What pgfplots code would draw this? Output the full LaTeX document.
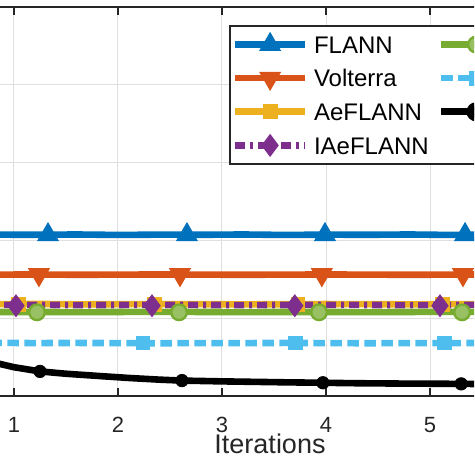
\documentclass[border=0pt]{standalone}
\usepackage{pgfplots}
\pgfplotsset{compat=1.18}
\usepackage{fontspec}
\setmainfont{Liberation Sans}

\definecolor{mBlue}{rgb}{0,0.447,0.741}
\definecolor{mOrange}{rgb}{0.85,0.325,0.098}
\definecolor{mYellow}{rgb}{0.929,0.694,0.125}
\definecolor{mPurple}{rgb}{0.494,0.184,0.556}
\definecolor{mGreen}{rgb}{0.466,0.674,0.188}
\definecolor{mCyan}{rgb}{0.301,0.745,0.933}
\definecolor{axgray}{rgb}{0.15,0.15,0.15}
\definecolor{gridgray}{rgb}{0.875,0.875,0.875}

\begin{document}
\begin{tikzpicture}
% visible window of the figure
\useasboundingbox (45pt,-39pt) rectangle (282pt,198pt);
\clip (45pt,-39pt) rectangle (282pt,198pt);
\begin{axis}[
  at={(0pt,0pt)}, anchor=south west,
  scale only axis, width=364pt, height=194.5pt,
  xmin=0, xmax=7, ymin=-35, ymax=-10,
  xtick={0,...,7}, ytick={-35,-30,...,-10},
  grid=major,
  major grid style={line width=0.5pt, draw=gridgray},
  axis line style={draw=axgray, line width=0.7pt},
  tick style={draw=axgray, line width=0.7pt},
  tick align=inside, major tick length=4pt,
  tick label style={font=\fontsize{11}{13}\selectfont, text=axgray},
  /pgf/number format/assume math mode=true,
  xticklabel style={anchor=base, yshift=-18pt},
  xlabel={Iterations},
  xlabel style={at={(axis description cs:0.4945,0)}, anchor=base, yshift=-28.5pt,
    font=\fontsize{13.5}{16}\selectfont, text=axgray},
  legend columns=2,
  legend cell align=left,
  legend style={at={(axis description cs:0.4382,0.9537)}, anchor=north west,
    draw=axgray, line width=0.8pt, fill=white,
    font=\fontsize{12}{14}\selectfont,
    inner xsep=1pt, inner ysep=1pt, row sep=0pt, column sep=0pt,
    nodes={inner sep=0pt, minimum height=16.8pt, text height=8.6pt, text depth=0pt}},
  /tikz/every odd column/.append style={column sep=2.8pt},
  /tikz/every even column/.append style={column sep=4.5pt},
  legend image code/.code={
    \draw[mark repeat=2,mark phase=2,#1] plot coordinates {(0pt,0pt) (17.5pt,0pt) (35pt,0pt)};},
]

% FLANN
\addplot[forget plot, mBlue, line width=3.3pt] coordinates {
 (0,-10) (0.1,-17) (0.2,-21) (0.35,-23.5) (0.5,-24.3) (0.65,-24.58)
 (0.8,-24.63) (1.2,-24.64) (1.6,-24.62) (2.0,-24.65) (2.4,-24.63) (2.8,-24.64)
 (3.2,-24.62) (3.6,-24.65) (4.0,-24.63) (4.4,-24.64) (4.8,-24.62) (5.2,-24.65)
 (5.6,-24.63) (6.0,-24.64) (6.68,-24.63)};
\addplot[forget plot, only marks, mark=triangle*, mark size=5.8pt,
  mark options={draw=mBlue, fill=mBlue, line width=0.6pt}] coordinates {
 (1.327,-24.64) (2.663,-24.64) (3.99,-24.63) (5.337,-24.63)};

% Volterra
\addplot[forget plot, mOrange, line width=3.3pt] coordinates {
 (0,-12) (0.1,-19) (0.2,-23.5) (0.35,-26) (0.5,-26.9) (0.65,-27.15)
 (0.8,-27.2) (1.2,-27.19) (1.6,-27.21) (2.0,-27.2) (2.4,-27.19) (2.8,-27.2)
 (3.2,-27.21) (3.6,-27.2) (4.0,-27.19) (4.4,-27.2) (4.8,-27.21) (5.2,-27.2)
 (5.6,-27.19) (6.0,-27.2) (6.68,-27.2)};
\addplot[forget plot, only marks, mark=triangle*, mark size=5.8pt,
  mark options={rotate=180, draw=mOrange, fill=mOrange, line width=0.6pt}] coordinates {
 (1.24,-27.2) (2.596,-27.2) (3.96,-27.2) (5.317,-27.2)};

% AeFLANN
\addplot[forget plot, mYellow, line width=3.3pt] coordinates {
 (0,-13) (0.1,-20) (0.2,-25) (0.35,-27.8) (0.5,-28.8) (0.65,-29.05)
 (0.8,-29.1) (1.2,-29.08) (1.6,-29.11) (2.0,-29.1) (2.4,-29.09) (2.8,-29.1)
 (3.2,-29.11) (3.6,-29.1) (4.0,-29.09) (4.4,-29.1) (4.8,-29.11) (5.2,-29.1)
 (5.6,-29.09) (6.0,-29.1) (6.68,-29.1)};
\addplot[forget plot, only marks, mark=square*, mark size=3.4pt,
  mark options={draw=mYellow, fill=mYellow, line width=0.6pt}] coordinates {
 (1.04,-29.1) (2.35,-29.1) (3.73,-29.1) (5.12,-29.1)};

% IAeFLANN
\addplot[forget plot, mPurple, line width=3.3pt, dash pattern=on 5pt off 2.5pt on 1.5pt off 2.5pt] coordinates {
 (0,-13) (0.1,-20) (0.2,-25) (0.35,-27.8) (0.5,-28.8) (0.65,-29.1)
 (0.8,-29.15) (1.2,-29.14) (1.6,-29.16) (2.0,-29.15) (2.4,-29.14) (2.8,-29.15)
 (3.2,-29.16) (3.6,-29.15) (4.0,-29.14) (4.4,-29.15) (4.8,-29.16) (5.2,-29.15)
 (5.6,-29.14) (6.0,-29.15) (6.68,-29.15)};
\addplot[forget plot, only marks, mark=diamond*, mark size=5.3pt,
  mark options={solid, draw=mPurple, fill=mPurple, line width=0.6pt}] coordinates {
 (1.019,-29.2) (2.327,-29.2) (3.70,-29.2) (5.096,-29.2)};

% RAeFLANN
\addplot[forget plot, mGreen, line width=3.3pt] coordinates {
 (0,-13) (0.1,-20.5) (0.2,-25.5) (0.35,-28.2) (0.5,-29.2) (0.65,-29.55)
 (0.8,-29.6) (1.2,-29.6) (1.6,-29.61) (2.0,-29.6) (2.4,-29.59) (2.8,-29.6)
 (3.2,-29.61) (3.6,-29.6) (4.0,-29.6) (4.4,-29.61) (4.8,-29.6) (5.2,-29.59)
 (5.6,-29.6) (6.0,-29.6) (6.68,-29.6)};
\addplot[forget plot, only marks, mark=*, mark size=3.9pt,
  mark options={draw=mGreen, fill=mGreen!75!white, line width=1.2pt}] coordinates {
 (1.221,-29.62) (2.587,-29.62) (3.933,-29.62) (5.308,-29.62)};

% KAeFLANN
\addplot[forget plot, mCyan, line width=3.3pt, dash pattern=on 5.8pt off 2.7pt] coordinates {
 (0,-14) (0.1,-21.5) (0.2,-27) (0.35,-30) (0.5,-31.2) (0.65,-31.5)
 (0.8,-31.58) (1.2,-31.6) (1.6,-31.59) (2.0,-31.6) (2.4,-31.61) (2.8,-31.6)
 (3.2,-31.6) (3.6,-31.59) (4.0,-31.6) (4.4,-31.61) (4.8,-31.6) (5.2,-31.6)
 (5.6,-31.59) (6.0,-31.6) (6.68,-31.6)};
\addplot[forget plot, only marks, mark=square*, mark size=3.4pt,
  mark options={solid, draw=mCyan, fill=mCyan, line width=0.6pt}] coordinates {
 (0.77,-31.6) (2.24,-31.6) (3.71,-31.6) (5.14,-31.6)};

% Proposed
\addplot[forget plot, black, line width=3.3pt] coordinates {
 (0,-18) (0.1,-25) (0.2,-28.5) (0.35,-30.8) (0.5,-31.9) (0.65,-32.5) (0.8,-32.85)
 (0.865,-32.94) (1.0,-33.15) (1.25,-33.42) (1.5,-33.57) (1.83,-33.72) (2.1,-33.84)
 (2.4,-33.95) (2.615,-34.01) (3.0,-34.06) (3.3,-34.09) (3.6,-34.12) (3.97,-34.15)
 (4.3,-34.18) (4.7,-34.2) (5.0,-34.21) (5.3,-34.22) (5.6,-34.24) (6.0,-34.26) (6.68,-34.28)};
\addplot[forget plot, only marks, mark=*, mark size=3.1pt,
  mark options={draw=black, fill=black}] coordinates {
 (1.25,-33.42) (2.615,-34.01) (3.97,-34.15) (5.3,-34.22)};

% legend, filled row by row
\addlegendimage{mBlue, line width=3.3pt, mark=triangle*, mark size=5.8pt, mark options={fill=mBlue, line width=0.6pt}}
\addlegendentry{FLANN}
\addlegendimage{mGreen, line width=3.3pt, mark=*, mark size=3.9pt, mark options={fill=mGreen!75!white, line width=1.2pt}}
\addlegendentry{RAeFLANN}
\addlegendimage{mOrange, line width=3.3pt, mark=triangle*, mark size=5.8pt, mark options={rotate=180, fill=mOrange, line width=0.6pt}}
\addlegendentry{Volterra}
\addlegendimage{mCyan, line width=3.3pt, dash pattern=on 5.8pt off 2.7pt, mark=square*, mark size=3.4pt, mark options={solid, fill=mCyan, line width=0.6pt}}
\addlegendentry{KAeFLANN}
\addlegendimage{mYellow, line width=3.3pt, mark=square*, mark size=3.4pt, mark options={fill=mYellow, line width=0.6pt}}
\addlegendentry{AeFLANN}
\addlegendimage{black, line width=3.3pt, mark=*, mark size=3.1pt, mark options={fill=black}}
\addlegendentry{Proposed}
\addlegendimage{mPurple, line width=3.3pt, dash pattern=on 5pt off 2.5pt on 1.5pt off 2.5pt, mark=diamond*, mark size=5.3pt, mark options={solid, fill=mPurple, line width=0.6pt}}
\addlegendentry{IAeFLANN}
\end{axis}
\end{tikzpicture}
\end{document}
